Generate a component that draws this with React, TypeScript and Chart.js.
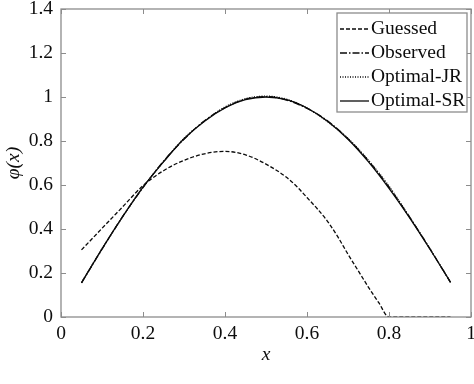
import React, { useEffect, useRef } from 'react';
import { Chart, registerables } from 'chart.js';

Chart.register(...registerables);

const xValues = [0.05, 0.1, 0.15, 0.2, 0.25, 0.3, 0.35, 0.4, 0.45, 0.5, 0.55, 0.6, 0.65, 0.7, 0.75, 0.8, 0.85, 0.9, 0.95];
const guessedX = [0.05, 0.1, 0.15, 0.2, 0.25, 0.3, 0.35, 0.4, 0.45, 0.5, 0.55, 0.575, 0.6, 0.625, 0.65, 0.675, 0.7, 0.725, 0.75, 0.775, 0.8, 0.85, 0.9, 0.95];
const guessed = [0.305, 0.403, 0.5, 0.597, 0.665, 0.712, 0.742, 0.753, 0.737, 0.695, 0.635, 0.593, 0.543, 0.492, 0.435, 0.365, 0.285, 0.21, 0.135, 0.065, 0.0, 0.0, 0.0, 0.0];
const observed = [0.155, 0.308, 0.456, 0.588, 0.708, 0.808, 0.892, 0.952, 0.99, 1.002, 0.986, 0.948, 0.892, 0.81, 0.71, 0.59, 0.455, 0.31, 0.157];
const optimalJR = [0.156, 0.31, 0.454, 0.59, 0.706, 0.812, 0.89, 0.955, 0.992, 1.004, 0.99, 0.95, 0.888, 0.812, 0.712, 0.595, 0.455, 0.31, 0.158];
const optimalSR = [0.155, 0.31, 0.455, 0.59, 0.705, 0.81, 0.89, 0.95, 0.988, 1.0, 0.988, 0.95, 0.89, 0.808, 0.705, 0.585, 0.452, 0.308, 0.158];

const seriesLabels = ['Guessed', 'Observed', 'Optimal-JR', 'Optimal-SR'];
const xTicks = [0, 0.2, 0.4, 0.6, 0.8, 1];
const xTickLabels = ['0', '0.2', '0.4', '0.6', '0.8', '1'];
const yTicks = [0, 0.2, 0.4, 0.6, 0.8, 1, 1.2, 1.4];
const yTickLabels = ['0', '0.2', '0.4', '0.6', '0.8', '1', '1.2', '1.4'];

const FONT = '"Liberation Serif", "Times New Roman", serif';
const AXIS = '#8c8c8c';
const TEXT = '#0d0d0d';

const dashes = [[4, 2], [7, 2, 1.5, 2], [1, 1.5], []];
const seriesX = [guessedX, xValues, xValues, xValues];
const series = [guessed, observed, optimalJR, optimalSR];

const framePlugin = {
  id: 'frame',
  afterDraw(chart: any) {
    const { ctx, chartArea: a, scales } = chart;
    ctx.save();
    ctx.strokeStyle = AXIS;
    ctx.lineWidth = 1.3;
    ctx.setLineDash([]);
    ctx.strokeRect(a.left, a.top, a.right - a.left, a.bottom - a.top);
    const T = 5;
    const seg = (x1: number, y1: number, x2: number, y2: number) => {
      ctx.beginPath();
      ctx.moveTo(x1, y1);
      ctx.lineTo(x2, y2);
      ctx.stroke();
    };
    ctx.lineWidth = 1;
    scales.x.ticks.forEach((t: any) => {
      const px = Math.round(scales.x.getPixelForValue(t.value)) + 0.5;
      seg(px, a.bottom, px, a.bottom - T);
      seg(px, a.top, px, a.top + T);
    });
    scales.y.ticks.forEach((t: any) => {
      const py = Math.round(scales.y.getPixelForValue(t.value)) + 0.5;
      seg(a.left, py, a.left + T, py);
      seg(a.right, py, a.right - T, py);
    });

    // legend box
    const bx = 337, by = 13, bw = 130, bh = 99;
    ctx.fillStyle = '#ffffff';
    ctx.fillRect(bx, by, bw, bh);
    ctx.strokeStyle = AXIS;
    ctx.lineWidth = 1.3;
    ctx.strokeRect(bx, by, bw, bh);
    ctx.font = `19.5px ${FONT}`;
    ctx.textBaseline = 'alphabetic';
    ctx.textAlign = 'left';
    chart.data.datasets.forEach((ds: any, i: number) => {
      const base = 33.5 + i * 24;
      const ly = base - 4.5;
      ctx.strokeStyle = ds.borderColor;
      ctx.lineWidth = ds.borderWidth;
      ctx.setLineDash(ds.borderDash || []);
      seg(340, ly, 369, ly);
      ctx.setLineDash([]);
      ctx.fillStyle = TEXT;
      ctx.fillText(ds.label, 371, base);
    });
    ctx.restore();
  },
};

export default function App() {
  const ref = useRef<HTMLCanvasElement | null>(null);
  useEffect(() => {
    if (!ref.current) return;
    const chart = new Chart(ref.current, {
      type: 'line',
      data: {
        datasets: series.map((s, i) => ({
          label: seriesLabels[i],
          data: seriesX[i].map((x, j) => ({ x, y: s[j] })),
          borderColor: '#0a0a0a',
          borderWidth: 1.3,
          borderDash: dashes[i],
          pointRadius: 0,
          fill: false,
          cubicInterpolationMode: 'monotone' as const,
        })),
      },
      options: {
        responsive: false,
        animation: false,
        events: [],
        layout: { padding: { top: 9, right: 3, left: 0, bottom: 0 } },
        plugins: { legend: { display: false }, tooltip: { enabled: false } },
        scales: {
          x: {
            type: 'linear',
            min: 0,
            max: 1,
            afterBuildTicks: (s: any) => { s.ticks = xTicks.map((v) => ({ value: v })); },
            afterFit: (s: any) => { s.height = 67; s.paddingLeft = 0; s.paddingRight = 0; },
            grid: { display: false, drawTicks: false },
            border: { display: false },
            ticks: {
              padding: 5,
              color: TEXT,
              font: { family: FONT, size: 19.5 },
              callback: (v: any) => xTickLabels[xTicks.indexOf(Number(v))] ?? '',
            },
            title: {
              display: true,
              text: 'x',
              color: TEXT,
              font: { family: FONT, size: 19.5, style: 'italic' },
              padding: { top: 0, bottom: 17 },
            },
          },
          y: {
            type: 'linear',
            min: 0,
            max: 1.4,
            afterBuildTicks: (s: any) => { s.ticks = yTicks.map((v) => ({ value: v })); },
            afterFit: (s: any) => { s.width = 61; s.paddingTop = 0; s.paddingBottom = 0; },
            grid: { display: false, drawTicks: false },
            border: { display: false },
            ticks: {
              padding: 8,
              color: TEXT,
              font: { family: FONT, size: 19.5 },
              callback: (v: any) => yTickLabels[yTicks.indexOf(Number(v))] ?? '',
            },
            title: {
              display: true,
              text: 'φ(x)',
              color: TEXT,
              font: { family: FONT, size: 19.5, style: 'italic' },
              padding: { top: 2, bottom: 0 },
            },
          },
        },
      },
      plugins: [framePlugin],
    });
    return () => chart.destroy();
  }, []);
  return (
    <div style={{ position: 'fixed', left: 0, top: 0, width: 474, height: 384, background: '#fff' }}>
      <canvas ref={ref} width={474} height={384} style={{ display: 'block', width: 474, height: 384 }} />
    </div>
  );
}
